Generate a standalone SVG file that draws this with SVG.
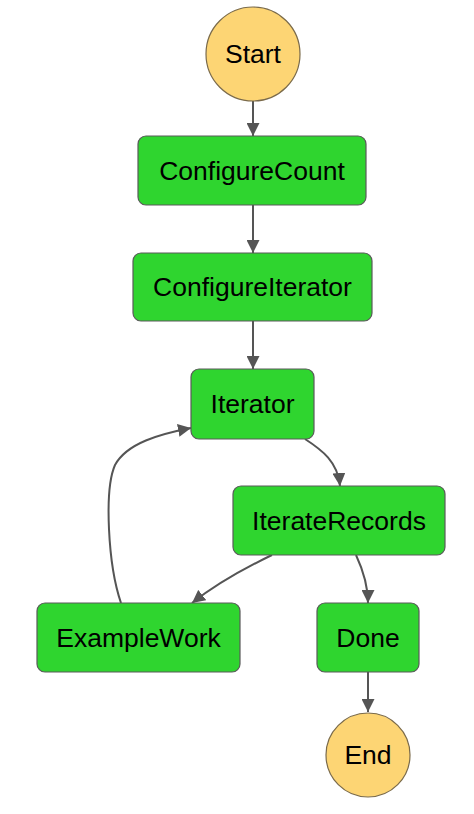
<svg xmlns="http://www.w3.org/2000/svg" width="474" height="814" viewBox="0 0 474 814">
<style>
.task rect{fill:#2fd52f;stroke:#5a5a5a;stroke-width:1.2}
.term circle{fill:#fdd574;stroke:#7a6a4a;stroke-width:1.2}
text{font-family:"Liberation Sans",Arial,Helvetica,sans-serif;font-size:26.5px;fill:#000;text-anchor:middle;dominant-baseline:central}
.edge{fill:none;stroke:#555;stroke-width:2;marker-end:url(#arr)}
</style>
<defs>
<marker id="arr" viewBox="0 0 10 10" refX="10" refY="5" markerWidth="6.5" markerHeight="6.5" orient="auto" markerUnits="strokeWidth">
<path d="M0,0 L10,5 L0,10 z" fill="#555"/>
</marker>
</defs>
<rect width="474" height="814" fill="#fff"/>
<g id="connectors">
<path class="edge" d="M253,101 L253,136"/>
<path class="edge" d="M253,205 L253,253"/>
<path class="edge" d="M253,321 L253,369"/>
<path class="edge" d="M305,439 C322,450 338,462 340,486"/>
<path class="edge" d="M272,555 C245,568 215,585 192,603"/>
<path class="edge" d="M356,555 C363,570 368,585 368,603"/>
<path class="edge" d="M121,603 C108,565 104,490 115,465 C127,443 160,434 191,428"/>
<path class="edge" d="M368,672 L368,712"/>
</g>
<g id="Start" class="term"><circle cx="253" cy="54" r="47"/><text x="253" y="54">Start</text></g>
<g id="ConfigureCount" class="task"><rect x="138" y="136" width="228" height="69" rx="8"/><text x="252" y="170.5">ConfigureCount</text></g>
<g id="ConfigureIterator" class="task"><rect x="133" y="253" width="239" height="68" rx="8"/><text x="252.5" y="287">ConfigureIterator</text></g>
<g id="Iterator" class="task"><rect x="191" y="369" width="123" height="70" rx="8"/><text x="252.5" y="404">Iterator</text></g>
<g id="IterateRecords" class="task"><rect x="233" y="486" width="212" height="69" rx="8"/><text x="339" y="520.5">IterateRecords</text></g>
<g id="ExampleWork" class="task"><rect x="37" y="603" width="203" height="69" rx="8"/><text x="138.5" y="637.5">ExampleWork</text></g>
<g id="Done" class="task"><rect x="317" y="603" width="102" height="69" rx="8"/><text x="368" y="637.5">Done</text></g>
<g id="End" class="term"><circle cx="368" cy="755" r="42"/><text x="368" y="755">End</text></g>
</svg>
